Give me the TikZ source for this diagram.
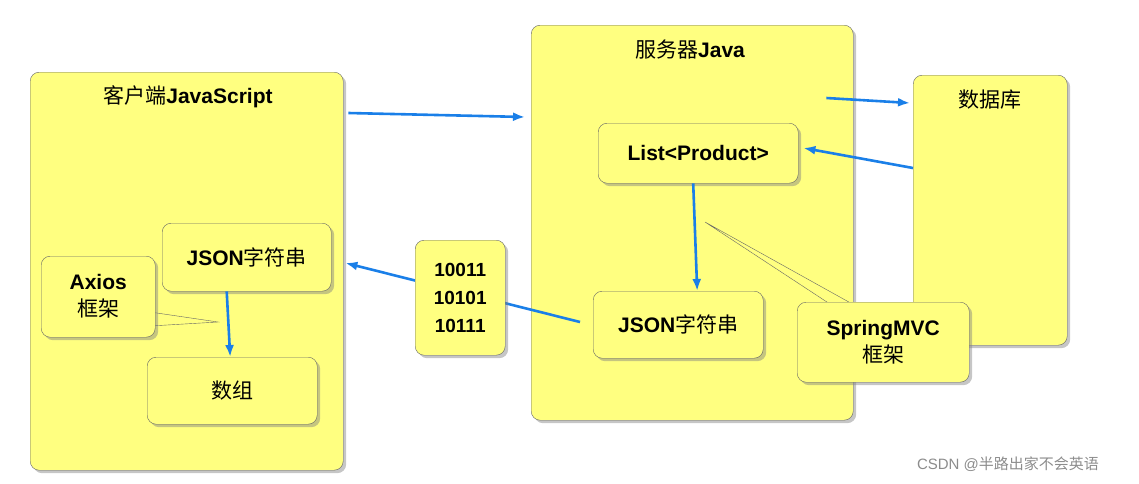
\documentclass[tikz,border=0pt]{standalone}
\usepackage{fontspec}
\setmainfont{Liberation Sans}
\newfontfamily\cjk{Noto Sans CJK SC}
\usetikzlibrary{shadows,positioning,arrows.meta}
\definecolor{boxfill}{HTML}{FFFF80}
\definecolor{arrowblue}{HTML}{1A7FE8}
\tikzset{
  box/.style={draw=black!60,fill=boxfill,rounded corners=9pt,anchor=north west,
    drop shadow={opacity=.45,shadow xshift=3pt,shadow yshift=-3pt},inner sep=0pt},
  txt/.style={font=\bfseries\fontsize{21}{27}\selectfont,align=center},
  flow/.style={-{Latex[length=12pt,width=9pt]},arrowblue,line width=2.6pt},
  pointer/.style={draw=black!60,fill=boxfill}
}
\begin{document}
\begin{tikzpicture}[x=1pt,y=-1pt]
  \useasboundingbox (0,0) rectangle (1139,483);
  % big boxes
  \node[box,minimum width=313,minimum height=398] (client) at (30,72) {};
  \node[box,minimum width=322,minimum height=395] (server) at (531,25) {};
  \node[box,minimum width=154,minimum height=270] (db) at (913,75) {};
  \node[txt] (clientlbl) at (188,97) {{\cjk\mdseries 客户端}JavaScript};
  \node[txt] (serverlbl) at (690,50) {{\cjk\mdseries 服务器}Java};
  \node[txt] (dblbl) at (990,100) {\cjk\mdseries 数据库};
  % callout pointers
  \coordinate (springtip) at (705,222);
  \coordinate (axiostip) at (218,322);
  \filldraw[pointer] (springtip) -- (833,306) -- (856,306) -- cycle;
  \filldraw[pointer] (axiostip) -- (150,312) -- (150,326) -- cycle;
  % inner boxes
  \node[box,minimum width=200,minimum height=60] (list) at (598,123) {};
  \node[txt] at (list.center) {List<Product>};
  \node[box,minimum width=170,minimum height=67] (sjson) at (593,291) {};
  \node[txt] at (sjson.center) {JSON{\cjk\mdseries 字符串}};
  \node[box,minimum width=172,minimum height=80] (spring) at (797,302) {};
  \node[txt] at (spring.center) {SpringMVC\\{\cjk\mdseries 框架}};
  \draw[flow] ([yshift=-31]sjson.north west) ++(-13,0) -- ([xshift=2,yshift=-191]client.north east);
  \node[box,minimum width=90,minimum height=115] (bits) at (415,240) {};
  \node[txt,font=\bfseries\fontsize{19}{28}\selectfont] at (bits.center) {10011\\10101\\10111};
  \node[box,minimum width=169,minimum height=68] (cjson) at (162,223) {};
  \node[txt] at (cjson.center) {JSON{\cjk\mdseries 字符串}};
  \node[box,minimum width=114,minimum height=81] (axios) at (41,256) {};
  \node[txt] at (axios.center) {Axios\\{\cjk\mdseries 框架}};
  \node[box,minimum width=170,minimum height=67] (array) at (147,357) {};
  \node[txt] at (array.center) {{\cjk\mdseries 数组}};
  % arrows
  \draw[flow] ([yshift=-41]client.north east) ++(5,0) -- ([yshift=-92,xshift=-6]server.north west);
  \draw[flow] ([xshift=-27,yshift=-73]server.north east) -- ([xshift=-3,yshift=-28]db.north west);
  \draw[flow] ([yshift=-93]db.north west) -- ([xshift=5,yshift=-25]list.north east);
  \draw[flow] ([xshift=-5]list.south) -- ([xshift=19]sjson.north);
  \draw[flow] ([xshift=-20]cjson.south) -- ([xshift=-2]array.north);
  \node[text=black!45,font=\fontsize{15}{18}\selectfont] (mark) at (1008,464) {CSDN @{\cjk 半路出家不会英语}};
\end{tikzpicture}
\end{document}
